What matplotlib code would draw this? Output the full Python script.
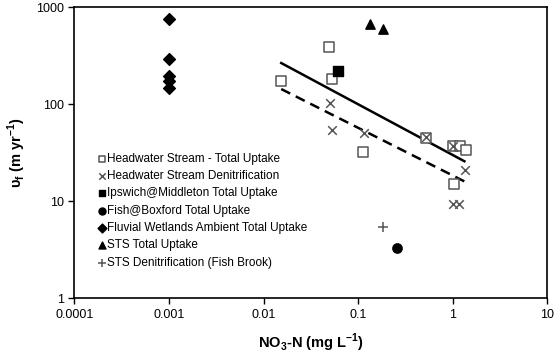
import matplotlib
import matplotlib.pyplot as plt

matplotlib.use("Agg")
plt.rcParams["font.family"] = ["Liberation Sans", "DejaVu Sans"]
plt.rcParams["mathtext.fontset"] = "custom"
plt.rcParams["mathtext.rm"] = "Liberation Sans"
plt.rcParams["mathtext.bf"] = "Liberation Sans:bold"

# NO3-N (mg/L) and uptake velocity (m/yr)
hw_total_x = [0.0154, 0.0497, 0.0533, 0.1135, 0.526, 1.01, 1.2, 1.39, 1.04]
hw_total_y = [173, 387, 181, 32, 44.6, 37, 37, 34, 15]
hw_denit_x = [0.0508, 0.0533, 0.1156, 0.526, 1.01, 1.36, 1.0, 1.17]
hw_denit_y = [102, 54, 51, 46, 37, 21, 9.3, 9.3]
ipswich_x = [0.0617]
ipswich_y = [219]
fish_x = [0.26]
fish_y = [3.27]
wetland_x = [0.001, 0.001, 0.001, 0.001, 0.001]
wetland_y = [750, 290, 195, 172, 145]
sts_total_x = [0.135, 0.185]
sts_total_y = [668, 593]
sts_denit_x = [0.185]
sts_denit_y = [5.4]

# trend line end points
trend_x = [0.0154, 1.33]
trend_total_y = [265, 25.8]
trend_denit_y = [143, 16]

fig, ax = plt.subplots(figsize=(5.59, 3.53), dpi=100)
fig.subplots_adjust(left=0.133, right=0.979, top=0.98, bottom=0.155)

grey = "#555555"
ax.plot(trend_x, trend_total_y, color="black", lw=1.8)
ax.plot(trend_x, trend_denit_y, color="black", lw=1.8, ls=(0, (4, 2.5)))

ax.scatter(hw_total_x, hw_total_y, marker="s", s=42, facecolor="white",
           edgecolor=grey, linewidth=1.1, label="Headwater Stream - Total Uptake", zorder=3)
ax.scatter(hw_denit_x, hw_denit_y, marker="x", s=38, color=grey, linewidth=1.1,
           label="Headwater Stream Denitrification", zorder=4)
ax.scatter(ipswich_x, ipswich_y, marker="s", s=42, color="black",
           label="Ipswich@Middleton Total Uptake", zorder=3)
ax.scatter(fish_x, fish_y, marker="o", s=45, color="black",
           label="Fish@Boxford Total Uptake", zorder=3)
ax.scatter(wetland_x, wetland_y, marker="D", s=36, color="black",
           label="Fluvial Wetlands Ambient Total Uptake", zorder=3)
ax.scatter(sts_total_x, sts_total_y, marker="^", s=45, color="black",
           label="STS Total Uptake", zorder=3)
ax.scatter(sts_denit_x, sts_denit_y, marker="+", s=60, color=grey, linewidth=1.1,
           label="STS Denitrification (Fish Brook)", zorder=3)

ax.set_xscale("log")
ax.set_yscale("log")
ax.set_xlim(0.0001, 10)
ax.set_ylim(1, 1000)
xt = [0.0001, 0.001, 0.01, 0.1, 1, 10]
yt = [1, 10, 100, 1000]
ax.set_xticks(xt)
ax.set_xticklabels(["0.0001", "0.001", "0.01", "0.1", "1", "10"])
ax.set_yticks(yt)
ax.set_yticklabels(["1", "10", "100", "1000"])
ax.minorticks_off()
ax.tick_params(labelsize=9, length=4, width=1, direction="out")
for sp in ax.spines.values():
    sp.set_linewidth(1.2)

ax.set_xlabel(r"NO$_\mathbf{3}$-N (mg L$^{\mathbf{-1}}$)", fontsize=10.5, fontweight="bold", labelpad=8)
ax.set_ylabel(r"υ$_\mathbf{f}$ (m yr$^{\mathbf{-1}}$)", fontsize=10.5, fontweight="bold", labelpad=6)

ax.legend(loc="upper left", bbox_to_anchor=(0.035, 0.52), frameon=False, fontsize=8.5,
          handletextpad=0.1, handlelength=0.8, labelspacing=0.45, borderpad=0,
          scatterpoints=1, markerscale=0.75)

fig.savefig("out.png", dpi=100)
